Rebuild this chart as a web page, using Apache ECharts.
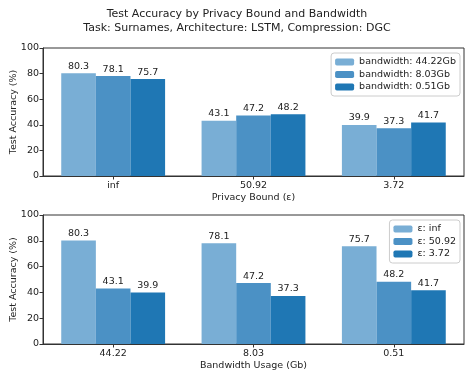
<!DOCTYPE html>
<html><head><meta charset="utf-8">
<script src="https://cdn.jsdelivr.net/npm/echarts@6/dist/echarts.min.js"></script>
<style>html,body{margin:0;padding:0;background:#fff}#c{width:474px;height:379px}</style>
</head><body><div id="c"></div>
<script>
const privacyBounds = ['inf', '50.92', '3.72'];
const bandwidths = ['44.22', '8.03', '0.51'];
// accuracy[bandwidth index][privacy index]
const acc_bw_44_22 = [80.3, 43.1, 39.9];
const acc_bw_8_03 = [78.1, 47.2, 37.3];
const acc_bw_0_51 = [75.7, 48.2, 41.7];
const yTicks = [0, 20, 40, 60, 80, 100];

const accByBw = [acc_bw_44_22, acc_bw_8_03, acc_bw_0_51];
const colors = ['#79aed5', '#4b91c5', '#1f77b4'];
const font = 'DejaVu Sans';
const txt = '#222';
const fs = 9.5;

function mkSeries(name, data, color, xi, yi) {
  return {
    type: 'bar', name, data, xAxisIndex: xi, yAxisIndex: yi,
    barGap: '0%', barCategoryGap: '26%',
    itemStyle: { color },
    label: { show: true, position: 'top', distance: 2, fontFamily: font, fontSize: fs, color: txt,
      formatter: p => p.value.toFixed(1) },
    emphasis: { disabled: true }
  };
}
const series = [];
bandwidths.forEach((bw, i) => series.push(mkSeries('bandwidth: ' + bw + 'Gb', accByBw[i], colors[i], 0, 0)));
privacyBounds.forEach((pb, j) => series.push(mkSeries('ε: ' + pb, bandwidths.map((_, i) => accByBw[i][j]), colors[j], 1, 1)));

function xAx(gi, cats, name) {
  return { type: 'category', gridIndex: gi, data: cats, name, nameLocation: 'middle', nameGap: 17,
    nameMoveOverlap: false,
    nameTextStyle: { fontFamily: font, fontSize: fs, color: txt },
    axisLine: { show: true, lineStyle: { color: '#333', width: 1 } },
    axisTick: { show: true, alignWithLabel: true, length: 3.5, lineStyle: { color: '#333' } },
    axisLabel: { fontFamily: font, fontSize: fs, color: txt, margin: 5 } };
}
function yAx(gi) {
  return { type: 'value', gridIndex: gi, min: 0, max: 100, interval: 20,
    name: 'Test Accuracy (%)', nameLocation: 'middle', nameGap: 29, nameRotate: 90,
    nameMoveOverlap: false,
    nameTextStyle: { fontFamily: font, fontSize: fs, color: txt, verticalAlign: 'middle' },
    splitLine: { show: false },
    axisLine: { show: true, lineStyle: { color: '#333', width: 1 } },
    axisTick: { show: true, length: 3.5, lineStyle: { color: '#333' } },
    axisLabel: { fontFamily: font, fontSize: fs, color: txt, margin: 4 } };
}
function lg(names, top) {
  return { data: names, orient: 'vertical', right: 14, top, itemWidth: 19, itemHeight: 7, itemGap: 2.5,
    padding: [4, 4, 4, 4], backgroundColor: '#fff', borderColor: '#ccc', borderWidth: 1, borderRadius: 3,
    textStyle: { fontFamily: font, fontSize: fs, color: txt }, selectedMode: false };
}

const chart = echarts.init(document.getElementById('c'), null, { renderer: 'canvas' });
chart.setOption({
  animation: false,
  title: { text: 'Test Accuracy by Privacy Bound and Bandwidth\nTask: Surnames, Architecture: LSTM, Compression: DGC',
    left: 'center', top: 2,
    textStyle: { fontFamily: font, fontSize: 11, fontWeight: 'normal', color: txt, lineHeight: 14 } },
  grid: [
    { left: 43, right: 10, top: 48, height: 128, show: true, borderColor: '#333', borderWidth: 1, containLabel: false, outerBoundsMode: 'none' },
    { left: 43, right: 10, top: 215, height: 129, show: true, borderColor: '#333', borderWidth: 1, containLabel: false, outerBoundsMode: 'none' }
  ],
  xAxis: [xAx(0, privacyBounds, 'Privacy Bound (ε)'), xAx(1, bandwidths, 'Bandwidth Usage (Gb)')],
  yAxis: [yAx(0), yAx(1)],
  legend: [
    lg(bandwidths.map(b => 'bandwidth: ' + b + 'Gb'), 53),
    lg(privacyBounds.map(p => 'ε: ' + p), 220)
  ],
  series
});
</script></body></html>
